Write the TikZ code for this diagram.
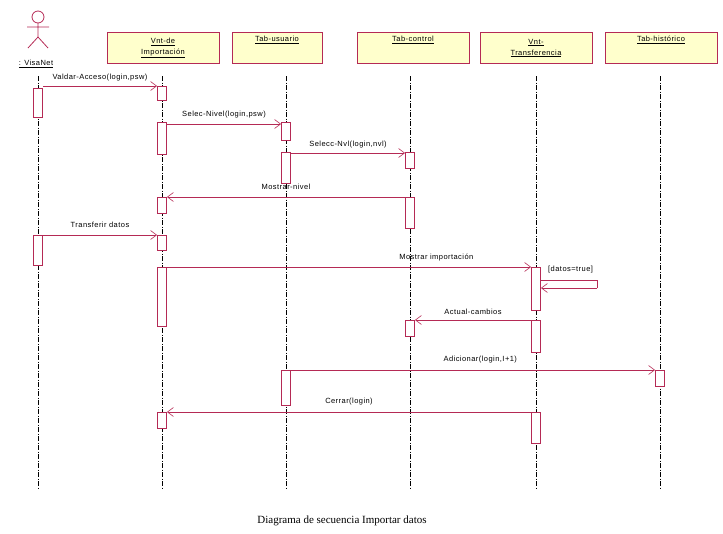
\documentclass[tikz,border=0pt]{standalone}
\usepackage{fontspec}
\setmainfont{Liberation Serif}
\newfontfamily\lab[LetterSpace=6]{Liberation Sans}
\usetikzlibrary{arrows.meta}
\definecolor{uml}{HTML}{B52A55}
\definecolor{boxy}{HTML}{FFFFCC}
\begin{document}
\begin{tikzpicture}[x=1pt,y=-1pt,
 obj/.style={draw=uml,fill=boxy,line width=1pt,minimum width=112pt,minimum height=31pt,inner sep=1pt,font=\lab\fontsize{7.5}{9}\selectfont,align=center},
 life/.style={line width=0.9pt,dash pattern=on 5pt off 1.5pt on 1pt off 1.5pt},
 act/.style={draw=uml,fill=white,line width=0.9pt,minimum width=9pt,inner sep=0pt},
 msg/.style={draw=uml,line width=0.6pt,-{Straight Barb[length=6pt,width=9pt]}},
 ml/.style={font=\lab\fontsize{7.5}{8}\selectfont,inner sep=1pt}]
\useasboundingbox (0,0) rectangle (723,533);
% objects
\node[obj] (o2) at (163,48) {\underline{Vnt-de}\\[2pt]\underline{Importación}};
\node[obj,minimum width=90pt] (o3) at (277,48) {\underline{Tab-usuario}\\[9pt]};
\node[obj] (o4) at (413,48) {\underline{Tab-control}\\[9pt]};
\node[obj] (o5) at (536,48) {\underline{Vnt-}\\[2pt]\underline{Transferencia}};
\node[obj] (o6) at (661,48) {\underline{Tab-histórico}\\[9pt]};
% actor
\begin{scope}[draw=uml,line width=0.8pt]
\draw (38,17) circle (6);
\draw (38,23) -- (38,37) (27,27) -- (49,27) (38,37) -- (28,48) (38,37) -- (48,48);
\end{scope}
\node[ml] (actor) at (36,64) {\underline{: VisaNet}};
% lifelines
\foreach \n/\x in {l1/38,l2/162,l3/286,l4/410,l5/536,l6/660}{
 \coordinate (\n t) at (\x,76); \coordinate (\n b) at (\x,490);
 \draw[life] (\n t) -- (\n b);}
% activations
\newcommand\actbox[4]{\node[act,minimum height=#4-#3] (#1) at (#2,{(#3+#4)/2}) {};}
\actbox{a1}{38}{88}{117}
\actbox{a2}{38}{235}{265}
\actbox{b1}{162}{86}{100}
\actbox{b2}{162}{122}{154}
\actbox{b3}{162}{197}{213}
\actbox{b4}{162}{235}{250}
\actbox{b5}{162}{267}{326}
\actbox{b6}{162}{412}{428}
\actbox{c1}{286}{122}{140}
\actbox{c2}{286}{152}{183}
\actbox{c3}{286}{370}{405}
\actbox{d1}{410}{152}{168}
\actbox{d2}{410}{197}{228}
\actbox{d3}{410}{320}{336}
\actbox{e1}{536}{267}{310}
\actbox{e2}{536}{320}{352}
\actbox{e3}{536}{412}{443}
\actbox{f1}{660}{370}{386}
% messages
\draw[msg] (a1.east|-0,86) -- (b1.west|-0,86) node[ml,pos=0.5,above=4pt] {Valdar-Acceso(login,psw)};
\draw[msg] (b2.east|-0,124) -- (c1.west|-0,124) node[ml,midway,above=5pt] {Selec-Nivel(login,psw)};
\draw[msg] (c2.east|-0,153) -- (d1.west|-0,153) node[ml,midway,above=4pt] {Selecc-Nvl(login,nvl)};
\draw[msg] (d2.west|-0,197) -- (b3.east|-0,197) node[ml,pos=0.5,above=6pt] {Mostrar-nivel};
\draw[msg] (a2.east|-0,235) -- (b4.west|-0,235) node[ml,midway,above=6pt] {Transferir datos};
\draw[msg] (b5.east|-0,267) -- (e1.west|-0,267) node[ml,pos=0.74,above=5pt] {Mostrar importación};
\coordinate (s1) at (597,280); \coordinate (s2) at (597,288);
\draw[draw=uml,line width=0.6pt] (e1.east|-s1) -- (s1) -- (s2);
\draw[msg] (s2) -- (e1.east|-s2);
\node[ml,anchor=west] (g) at (547,270) {[datos=true]};
\draw[msg] (e2.west|-0,320) -- (d3.east|-0,320) node[ml,midway,above=4pt] {Actual-cambios};
\draw[msg] (c3.east|-0,370) -- (f1.west|-0,370) node[ml,pos=0.52,above=6pt] {Adicionar(login,I+1)};
\draw[msg] (e3.west|-0,412) -- (b6.east|-0,412) node[ml,pos=0.5,above=6pt] {Cerrar(login)};
\node[font=\fontsize{11}{12}\selectfont] (cap) at (342,521) {Diagrama de secuencia Importar datos};
\end{tikzpicture}
\end{document}
